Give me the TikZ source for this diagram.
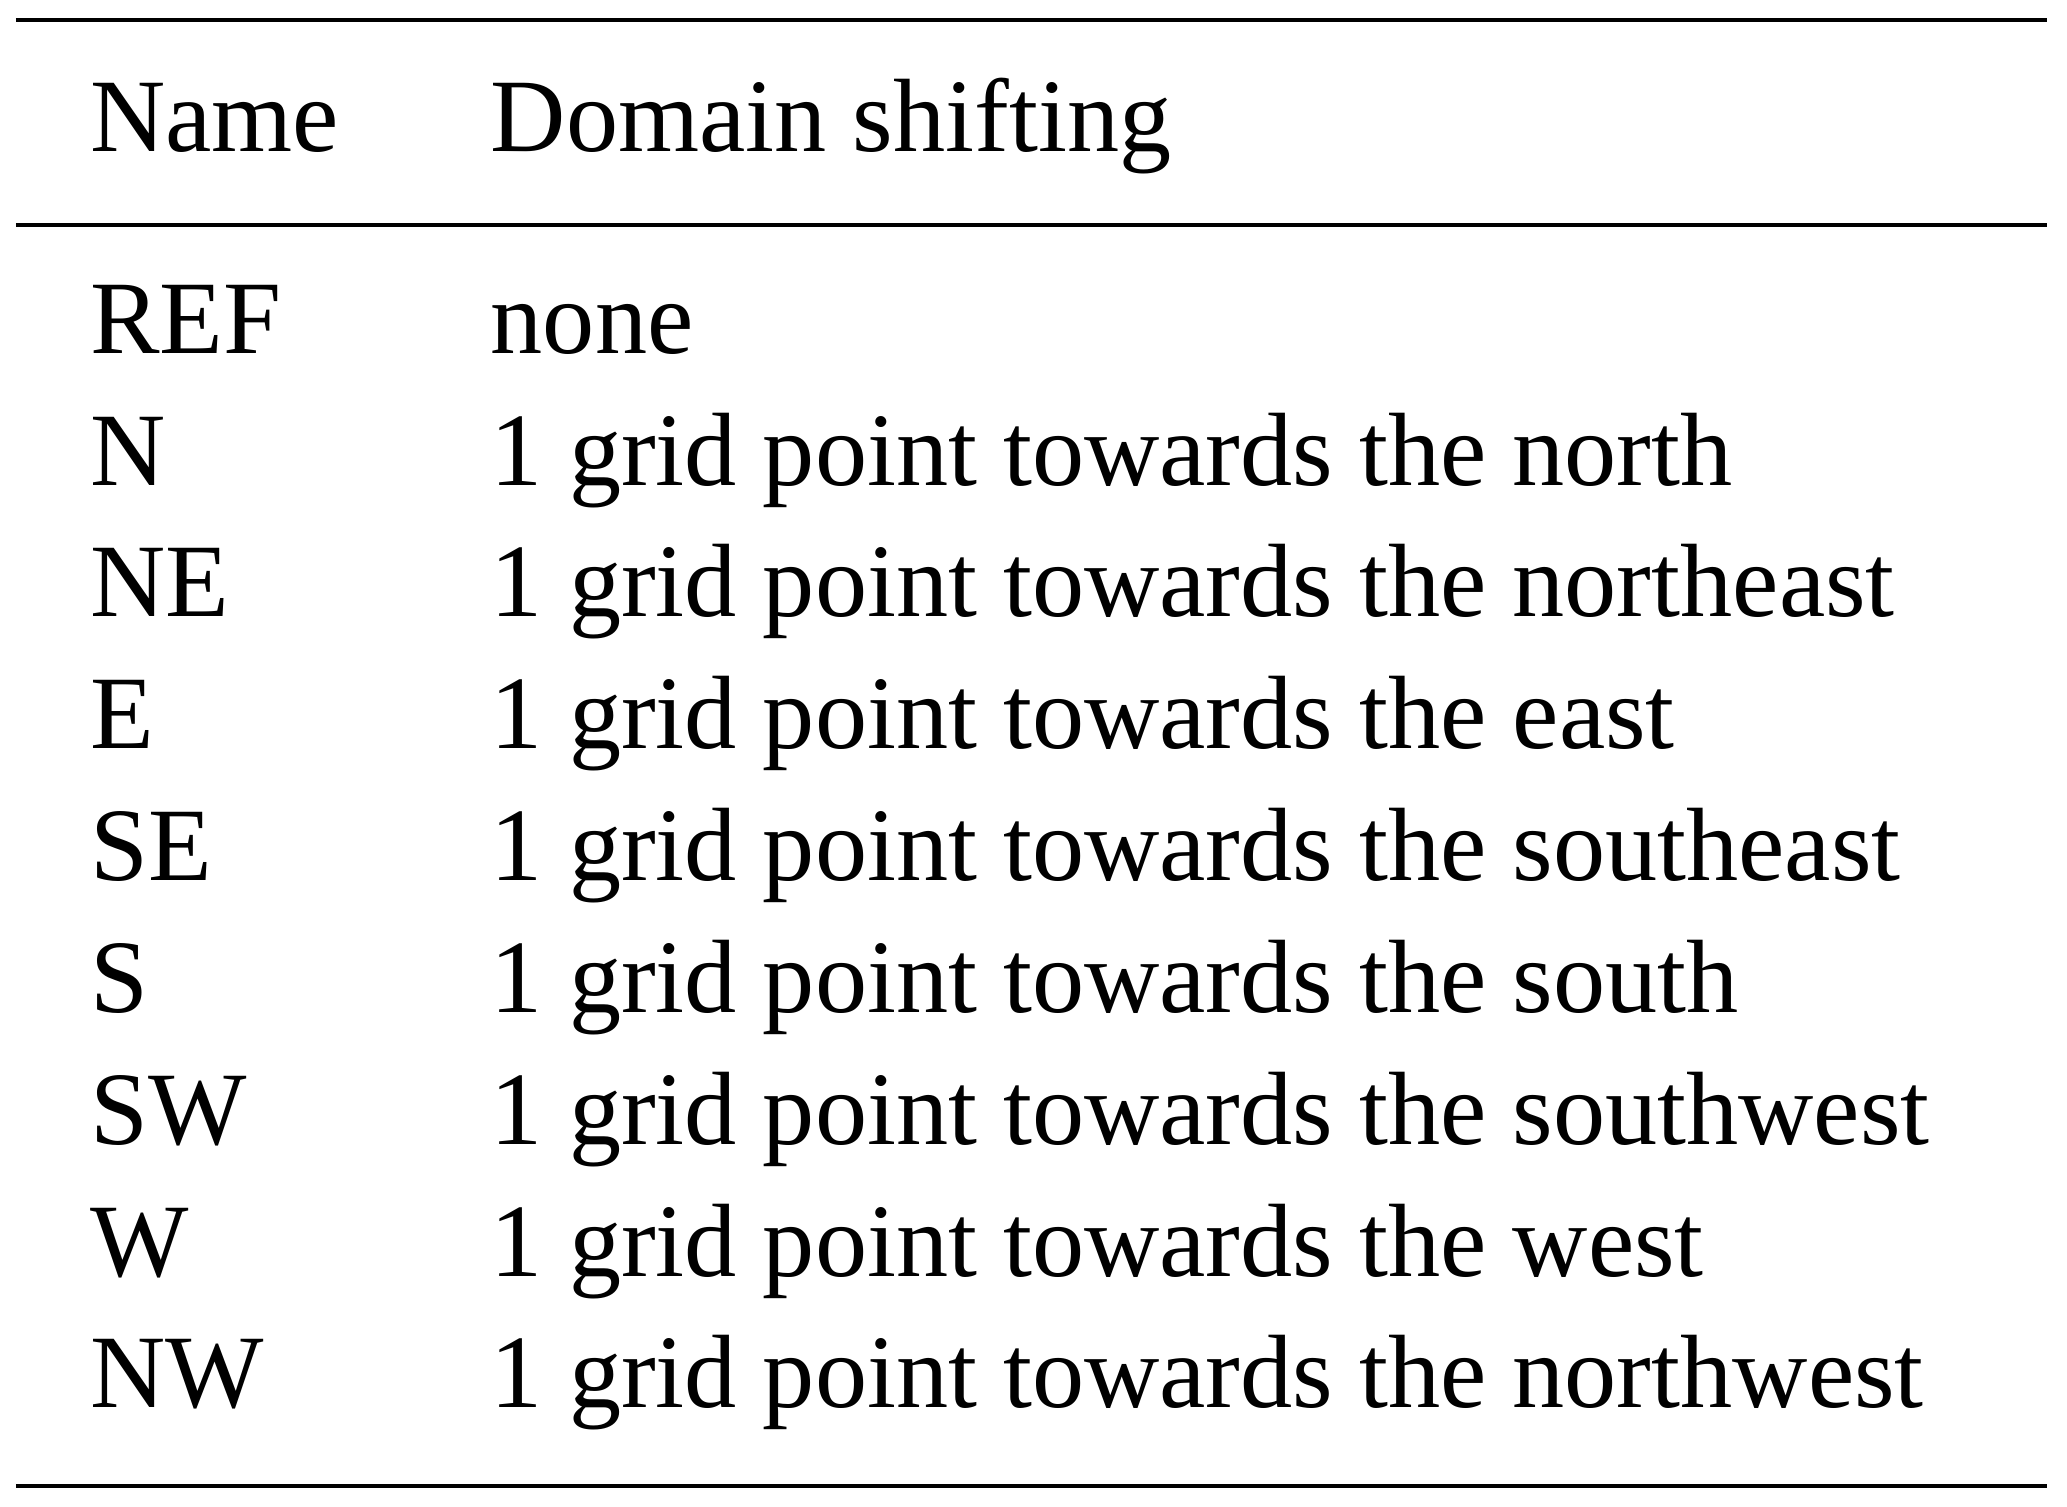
\documentclass[tikz,border=0pt]{standalone}
\usepackage{fontspec}
\setmainfont{Liberation Serif}
\begin{document}
\begin{tikzpicture}[x=0.02cm,y=-0.02cm,
  cell/.style={anchor=base west,inner sep=0pt,font=\fontsize{45}{54}\selectfont},
  rule/.style={line width=0.06cm}]
\useasboundingbox (0,0) rectangle (1568,1143);
\draw[rule] (12,15) -- (1553,15);
\draw[rule] (12,171) -- (1553,171);
\draw[rule] (12,1127) -- (1553,1127);
\node[cell] (h1) at (68,115) {Name};
\node[cell] (h2) at (372,115) {Domain shifting};
\foreach \n/\d [count=\i from 0] in {REF/none,
  N/1 grid point towards the north,
  NE/1 grid point towards the northeast,
  E/1 grid point towards the east,
  SE/1 grid point towards the southeast,
  S/1 grid point towards the south,
  SW/1 grid point towards the southwest,
  W/1 grid point towards the west,
  NW/1 grid point towards the northwest}{
  \node[cell] (a\i) at (68,{268+100*\i}) {\n};
  \node[cell] (b\i) at (372,{268+100*\i}) {\d};
}
\end{tikzpicture}
\end{document}
